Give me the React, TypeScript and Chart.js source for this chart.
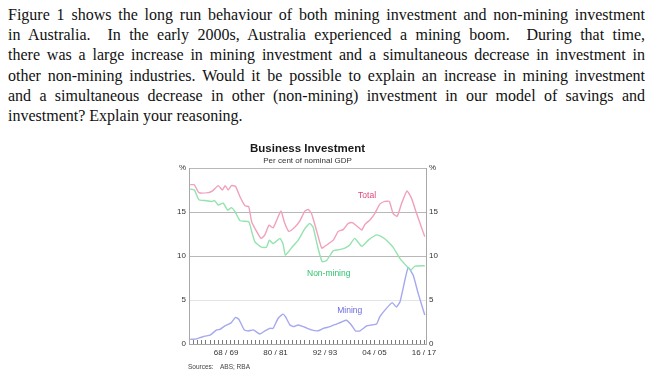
import React, { useEffect, useRef } from "react";
import { Chart, registerables } from "chart.js";

Chart.register(...registerables);

// ---- data ----
const totalYears = [1960.3, 1961.3, 1962.4, 1964.7, 1965.7, 1967.1, 1968.1, 1968.8, 1969.5, 1970.3, 1971.3, 1972.4, 1973.6, 1974.5, 1975.2, 1976.4, 1977.5, 1978.4, 1979.4, 1980.4, 1982.3, 1983.1, 1984.2, 1985.7, 1986.9, 1988.1, 1988.9, 1989.7, 1991.0, 1992.2, 1993.4, 1995.0, 1996.2, 1997.4, 1998.6, 1999.6, 2001.0, 2001.9, 2002.7, 2003.9, 2005.1, 2006.3, 2007.5, 2008.6, 2009.5, 2010.5, 2011.6, 2012.9, 2014.0, 2015.2, 2017.2];
const totalValues = [18.1, 18.1, 17.2, 17.2, 17.4, 18.0, 17.5, 18.0, 17.5, 18.0, 17.9, 16.7, 15.7, 15.6, 13.9, 12.8, 12.0, 12.4, 13.5, 13.2, 15.1, 13.9, 12.8, 13.3, 14.0, 15.1, 15.3, 14.85, 12.8, 10.9, 11.25, 11.8, 12.8, 13.0, 13.7, 13.8, 13.3, 12.95, 13.6, 14.1, 14.85, 15.9, 16.2, 16.2, 14.85, 14.5, 16.0, 17.4, 16.55, 14.85, 12.2];

const nonMiningYears = [1960.3, 1961.3, 1962.4, 1963.9, 1965.5, 1966.2, 1967.1, 1968.3, 1969.4, 1970.3, 1971.2, 1972.4, 1974.5, 1975.2, 1976.0, 1977.6, 1978.8, 1979.5, 1980.4, 1982.1, 1982.8, 1983.4, 1984.9, 1986.5, 1988.1, 1989.3, 1990.1, 1991.3, 1992.3, 1993.4, 1995.0, 1996.2, 1997.8, 1999.0, 2000.2, 2001.9, 2003.5, 2005.5, 2006.7, 2007.9, 2009.5, 2011.2, 2012.8, 2013.8, 2014.8, 2017.2];
const nonMiningValues = [17.6, 17.5, 16.4, 16.3, 16.2, 16.3, 15.8, 16.0, 15.2, 15.5, 15.0, 14.0, 13.9, 12.8, 11.6, 11.0, 11.0, 11.8, 11.4, 12.0, 11.4, 10.1, 10.95, 11.8, 13.1, 13.7, 13.3, 10.9, 9.35, 9.5, 10.6, 10.7, 10.9, 11.25, 12.0, 11.1, 11.8, 12.4, 12.2, 11.8, 11.0, 9.7, 8.85, 8.4, 8.85, 8.9];

const miningYears = [1960.3, 1961.5, 1962.7, 1963.9, 1965.1, 1966.7, 1967.5, 1968.7, 1970.2, 1971.3, 1972.1, 1973.4, 1974.4, 1975.6, 1977.2, 1978.4, 1979.6, 1980.4, 1981.6, 1982.8, 1983.4, 1984.5, 1985.3, 1986.5, 1988.1, 1989.7, 1991.3, 1992.6, 1994.2, 1995.8, 1997.0, 1998.2, 1999.4, 2000.4, 2001.5, 2003.1, 2004.3, 2005.5, 2006.3, 2007.9, 2009.3, 2010.3, 2011.2, 2012.4, 2013.2, 2014.4, 2015.6, 2017.2];
const miningValues = [0.53, 0.55, 0.72, 0.9, 1.0, 1.6, 1.67, 2.05, 2.4, 3.03, 2.8, 1.6, 1.48, 1.6, 1.14, 1.48, 1.78, 1.78, 2.9, 3.4, 3.1, 2.16, 1.97, 2.16, 1.9, 1.6, 1.5, 1.78, 1.97, 2.27, 2.5, 2.7, 2.16, 1.48, 1.5, 2.05, 2.16, 2.27, 3.1, 4.05, 4.7, 4.2, 4.8, 7.3, 8.7, 7.8, 5.75, 3.3];

const xTickYears = [1969, 1981, 1993, 2005, 2017];
const yTicks = [0, 5, 10, 15, 20];

const paragraphLines = [
  "Figure 1 shows the long run behaviour of both mining investment and non-mining investment",
  "in Australia.  In the early 2000s, Australia experienced a mining boom.  During that time,",
  "there was a large increase in mining investment and a simultaneous decrease in investment in",
  "other non-mining industries. Would it be possible to explain an increase in mining investment",
  "and a simultaneous decrease in other (non-mining) investment in our model of savings and",
  "investment? Explain your reasoning.",
];

const SANS = "'Liberation Sans', Arial, Helvetica, sans-serif";

const pts = (xs: number[], ys: number[]) => xs.map((x, i) => ({ x, y: ys[i] }));

const fmtYear = (v: number) => {
  const a = String((v - 1) % 100).padStart(2, "0");
  const b = String(v % 100).padStart(2, "0");
  return `${a} / ${b}`;
};

const decorPlugin = {
  id: "decor",
  afterDraw(chart: any) {
    const { ctx, chartArea, scales } = chart;
    const xs = scales.x;
    const ys = scales.y;
    ctx.save();
    // minor year ticks along the bottom axis (inside the plot)
    ctx.strokeStyle = "#7a7a7a";
    ctx.lineWidth = 1;
    ctx.beginPath();
    for (let yr = 1961; yr <= 2017; yr++) {
      const px = Math.round(xs.getPixelForValue(yr)) + 0.5;
      ctx.moveTo(px, chartArea.bottom);
      ctx.lineTo(px, chartArea.bottom - 4);
    }
    ctx.stroke();

    const cx = (chartArea.left + chartArea.right) / 2;
    ctx.textAlign = "center";
    ctx.textBaseline = "middle";
    ctx.fillStyle = "#1a1a1a";
    ctx.font = `bold 11.5px ${SANS}`;
    ctx.fillText("Business Investment", cx, 14);
    ctx.fillStyle = "#333";
    ctx.font = `8px ${SANS}`;
    ctx.fillText("Per cent of nominal GDP", cx, 26);

    // series labels
    ctx.font = `8.5px ${SANS}`;
    ctx.fillStyle = "#e0457b";
    ctx.fillText("Total", xs.getPixelForValue(2003.2), ys.getPixelForValue(16.9));
    ctx.fillStyle = "#2fc46e";
    ctx.fillText("Non-mining", xs.getPixelForValue(1993.9), ys.getPixelForValue(8.0));
    ctx.fillStyle = "#6b6be0";
    ctx.fillText("Mining", xs.getPixelForValue(1999.0), ys.getPixelForValue(3.8));

    // sources
    ctx.textAlign = "left";
    ctx.fillStyle = "#444";
    ctx.font = `6.5px ${SANS}`;
    ctx.fillText("Sources:", 38, 232);
    ctx.fillText("ABS; RBA", 70, 232);
    ctx.restore();
  },
};

export default function App() {
  const ref = useRef<HTMLCanvasElement>(null);

  useEffect(() => {
    if (!ref.current) return;
    Chart.defaults.font.family = SANS;
    const yTickCb = (v: any) => (v === 20 ? "%" : String(v));
    const chart = new Chart(ref.current, {
      type: "line",
      data: {
        datasets: [
          {
            label: "Total",
            data: pts(totalYears, totalValues),
            borderColor: "#f0a0ba",
            borderWidth: 1.4,
            pointRadius: 0,
            tension: 0.15,
          },
          {
            label: "Non-mining",
            data: pts(nonMiningYears, nonMiningValues),
            borderColor: "#92e3ad",
            borderWidth: 1.4,
            pointRadius: 0,
            tension: 0.15,
          },
          {
            label: "Mining",
            data: pts(miningYears, miningValues),
            borderColor: "#a4a8ee",
            borderWidth: 1.4,
            pointRadius: 0,
            tension: 0.15,
          },
        ],
      },
      options: {
        animation: false,
        responsive: false,
        devicePixelRatio: 1,
        parsing: false as any,
        layout: { padding: { top: 33, bottom: 14, left: 0, right: 0 } },
        plugins: {
          legend: { display: false },
          title: { display: false },
          tooltip: { enabled: false },
        },
        scales: {
          x: {
            type: "linear",
            min: 1960,
            max: 2017.5,
            afterBuildTicks: (s: any) => {
              s.ticks = xTickYears.map((v) => ({ value: v }));
            },
            afterFit: (s: any) => {
              s.height = 22;
            },
            ticks: {
              callback: (v: any) => fmtYear(Number(v)),
              font: { size: 8 },
              color: "#333",
              maxRotation: 0,
              autoSkip: false,
              padding: 4,
            },
            grid: { drawOnChartArea: false, drawTicks: false },
            border: { color: "#a8a8a8" },
          },
          y: {
            position: "left",
            min: 0,
            max: 20,
            afterBuildTicks: (s: any) => {
              s.ticks = yTicks.map((v) => ({ value: v }));
            },
            afterFit: (s: any) => {
              s.width = 39;
            },
            ticks: { callback: yTickCb, font: { size: 8 }, color: "#333", padding: 3 },
            grid: {
              drawTicks: false,
              color: (c: any) =>
                c.tick && c.tick.value === 5
                  ? "#e4e4e4"
                  : c.tick && c.tick.value === 0
                  ? "rgba(0,0,0,0)"
                  : "#b8b8b8",
            },
            border: { color: "#a8a8a8" },
          },
          y2: {
            position: "right",
            min: 0,
            max: 20,
            afterBuildTicks: (s: any) => {
              s.ticks = yTicks.map((v) => ({ value: v }));
            },
            afterFit: (s: any) => {
              s.width = 44;
            },
            ticks: { callback: yTickCb, font: { size: 8 }, color: "#333", padding: 3 },
            grid: { drawOnChartArea: false, drawTicks: false },
            border: { color: "#a8a8a8" },
          },
        },
      },
      plugins: [decorPlugin],
    } as any);
    return () => chart.destroy();
  }, []);

  return (
    <div style={{ position: "relative", width: 637, height: 370 }}>
      <div
        style={{
          position: "absolute",
          left: 0,
          top: -3,
          width: 637,
          fontFamily: "'Liberation Serif', 'DejaVu Serif', serif",
          fontSize: 16,
          lineHeight: "20.2px",
          color: "#111",
        }}
      >
        {paragraphLines.map((l, i) => (
          <div
            key={i}
            style={{
              textAlign: "justify",
              textAlignLast: i === paragraphLines.length - 1 ? "left" : "justify",
              whiteSpace: "pre-wrap",
            }}
          >
            {l}
          </div>
        ))}
      </div>
      <div style={{ position: "absolute", left: 142, top: 127, width: 320, height: 245 }}>
        <canvas ref={ref} width={320} height={245} style={{ width: 320, height: 245 }} />
      </div>
    </div>
  );
}
